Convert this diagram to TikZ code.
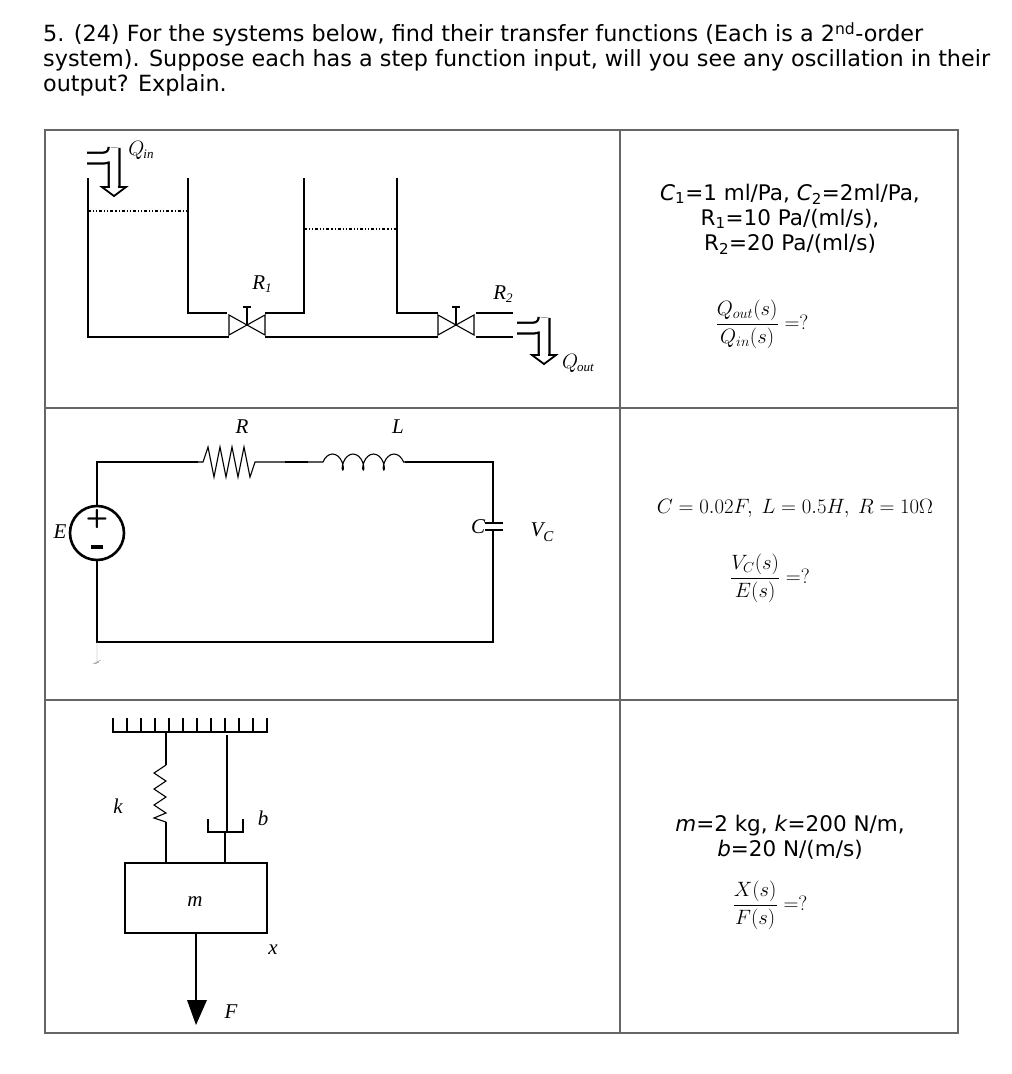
\documentclass[tikz,border=0pt]{standalone}
\usepackage{fontspec}
\setmainfont{Liberation Serif}
\newfontfamily\vfont{DejaVu Sans}
\usetikzlibrary{decorations.pathmorphing,arrows.meta}
\begin{document}
\begin{tikzpicture}[x=1pt,y=-1pt,
  wire/.style={line width=2.2pt},
  thin/.style={line width=1.1pt},
  lbl/.style={font=\fontsize{21}{21}\selectfont\itshape},
  vtxt/.style={font=\vfont\fontsize{21.5}{25}\selectfont, align=center},
  hollow/.style={line width=13pt, draw=black, postaction={draw=white, line width=8.5pt}}]
\useasboundingbox (0,0) rectangle (1012,1074);
% header
\node[vtxt, font=\vfont\fontsize{22.3}{25}\selectfont, anchor=north west, align=left, inner sep=0] (hdr) at (43,22)
{5. (24) For the systems below, find their transfer functions (Each is a 2\textsuperscript{nd}-order\\
system). Suppose each has a step function input, will you see any oscillation in their\\
output? Explain.};
% table
\draw[line width=1.2pt, draw=black!60] (45,130) rectangle (958,1033);
\draw[line width=1.2pt, draw=black!60] (620,130) -- (620,1033) (45,408) -- (958,408) (45,700) -- (958,700);
% ---- tanks
\draw[wire] (88,178) -- (88,337) -- (229,337);
\draw[wire] (188,178) -- (188,313) -- (227,313);
\draw[thin, dash dot dot] (88,211) -- (188,211);
\draw[wire] (265,313) -- (304,313) -- (304,178);
\draw[wire] (265,337) -- (438,337);
\draw[wire] (397,178) -- (397,313) -- (438,313);
\draw[thin, dash dot dot] (304,229) -- (397,229);
\draw[wire] (476,313) -- (513,313) (476,337) -- (513,337);
\foreach \c/\n in {247/v1,456/v2}{
  \coordinate (\n) at (\c,325);
  \draw[thin] (\c-18,315) -- (\c-18,335) -- (\c,325) -- cycle;
  \draw[thin] (\c+18,315) -- (\c+18,335) -- (\c,325) -- cycle;
  \draw[thin] (\c,325) -- (\c,307) (\c-4,307) -- (\c+4,307);
}
% Qin arrow
\draw[hollow] (87,158) -- (104,158) arc (90:0:10) -- (114,187);
\draw[line width=1.8pt, fill=white] (102,187) -- (126,187) -- (114,196) -- cycle;
\draw[line width=2pt, draw=white] (110,187) -- (118,187);
% Qout arrow
\draw[hollow] (517,328) -- (534,328) arc (90:0:10) -- (544,355);
\draw[line width=1.8pt, fill=white] (532,355) -- (556,355) -- (544,364) -- cycle;
\draw[line width=2pt, draw=white] (540,355) -- (548,355);
\node[lbl] (qin) at (141,150) {$Q$\kern-1pt\raisebox{-3pt}{\fontsize{13}{13}\selectfont in}};
\node[lbl] (r1) at (262,284) {R\raisebox{-3pt}{\fontsize{13}{13}\selectfont 1}};
\node[lbl] (r2) at (503,294) {R\raisebox{-3pt}{\fontsize{13}{13}\selectfont 2}};
\node[lbl] (qout) at (578,363) {$Q$\kern-1pt\raisebox{-3pt}{\fontsize{13}{13}\selectfont out}};
% ---- circuit
\node[circle, draw, line width=2.6pt, minimum size=54pt, inner sep=0] (src) at (97,533) {};
\node[font=\sffamily\bfseries\fontsize{26}{26}\selectfont] at (97,519) {+};
\draw[line width=3.5pt] (91,547) -- (103,547);
\draw[wire] (src.north) -- (97,462) -- (198,462);
\draw[thin] (198,462) -- (203,462) -- (208,447) -- (214,477) -- (220,447) -- (226,477) -- (232,447) -- (238,477) -- (244,447) -- (250,477) -- (255,462) -- (322,462);
\draw[wire] (285,462) -- (308,462);
\draw[thin, decorate, decoration={coil, aspect=0.55, segment length=20.5pt, amplitude=8pt, pre length=1pt, post length=1pt}] (322,462) -- (405,462);
\draw[thin] (405,462) -- (420,462);
\draw[wire] (420,462) -- (493,462) -- (493,523);
\draw[thin] (485,523) -- (503,523) (485,530) -- (503,530);
\draw[thin] (493,530) -- (493,588);
\draw[wire] (493,588) -- (493,642) -- (97,642) -- (src.south);
\draw[line width=0.4pt, gray] (97,642) -- (97,662) (93,664) -- (101,660) (95,664)--(99,662);
\node[lbl] (rl) at (242,427) {R};
\node[lbl] (ll) at (398,427) {L};
\node[lbl] (el) at (60,532) {E};
\node[lbl] (cl) at (478,527) {C};
\node[lbl] (vc) at (542,532) {V\raisebox{-5pt}{\fontsize{15}{15}\selectfont C}};
% ---- mass spring damper
\draw[wire] (113,718) -- (113,732) -- (267,732) -- (267,718);
\foreach \i in {1,...,10} \draw[wire] (113+\i*14,718) -- (113+\i*14,732);
\draw[wire] (166,732) -- (166,765);
\draw[thin] (166,765) -- (154,773) -- (166,781) -- (154,789) -- (166,797) -- (154,805) -- (166,813) -- (154,818) -- (166,822);
\draw[wire] (166,822) -- (166,863);
\draw[wire] (227,735) -- (227,768);
\draw[thin] (227,768) -- (227,832);
\draw[thin] (208,819) -- (208,832) -- (243,832) -- (243,819);
\draw[wire] (225,832) -- (225,863);
\node[draw, line width=2.2pt, minimum width=142pt, minimum height=70pt, inner sep=0] (mass) at (196,898) {};
\node[lbl] at (195,902) {m};
\draw[wire] (mass.south) -- (196,1000);
\fill (187,1000) -- (207,1000) -- (196,1025) -- cycle;
\node[lbl] (kl) at (118,806) {k};
\node[lbl] (bl) at (263,818) {b};
\node[lbl] (xl) at (273,950) {x};
\node[lbl] (fl) at (231,1012) {F};
% ---- right column
\node[vtxt] (p1) at (790,219) {\textit{C}\textsubscript{1}=1 ml/Pa, \textit{C}\textsubscript{2}=2ml/Pa,\\R\textsubscript{1}=10 Pa/(ml/s),\\R\textsubscript{2}=20 Pa/(ml/s)};
\node[font=\fontsize{20}{20}\selectfont] (f1) at (762,324) {$\displaystyle\frac{Q_{out}(s)}{Q_{in}(s)}=?$};
\node[font=\fontsize{21}{21}\selectfont] (p2) at (795,508) {$C=0.02F,\ L=0.5H,\ R=10\Omega$};
\node[font=\fontsize{20}{20}\selectfont] (f2) at (770,578) {$\displaystyle\frac{V_C(s)}{E(s)}=?$};
\node[vtxt] (p3) at (790,837) {\textit{m}=2 kg, \textit{k}=200 N/m,\\\textit{b}=20 N/(m/s)};
\node[font=\fontsize{20}{20}\selectfont] (f3) at (770,905) {$\displaystyle\frac{X(s)}{F(s)}=?$};
\end{tikzpicture}
\end{document}
